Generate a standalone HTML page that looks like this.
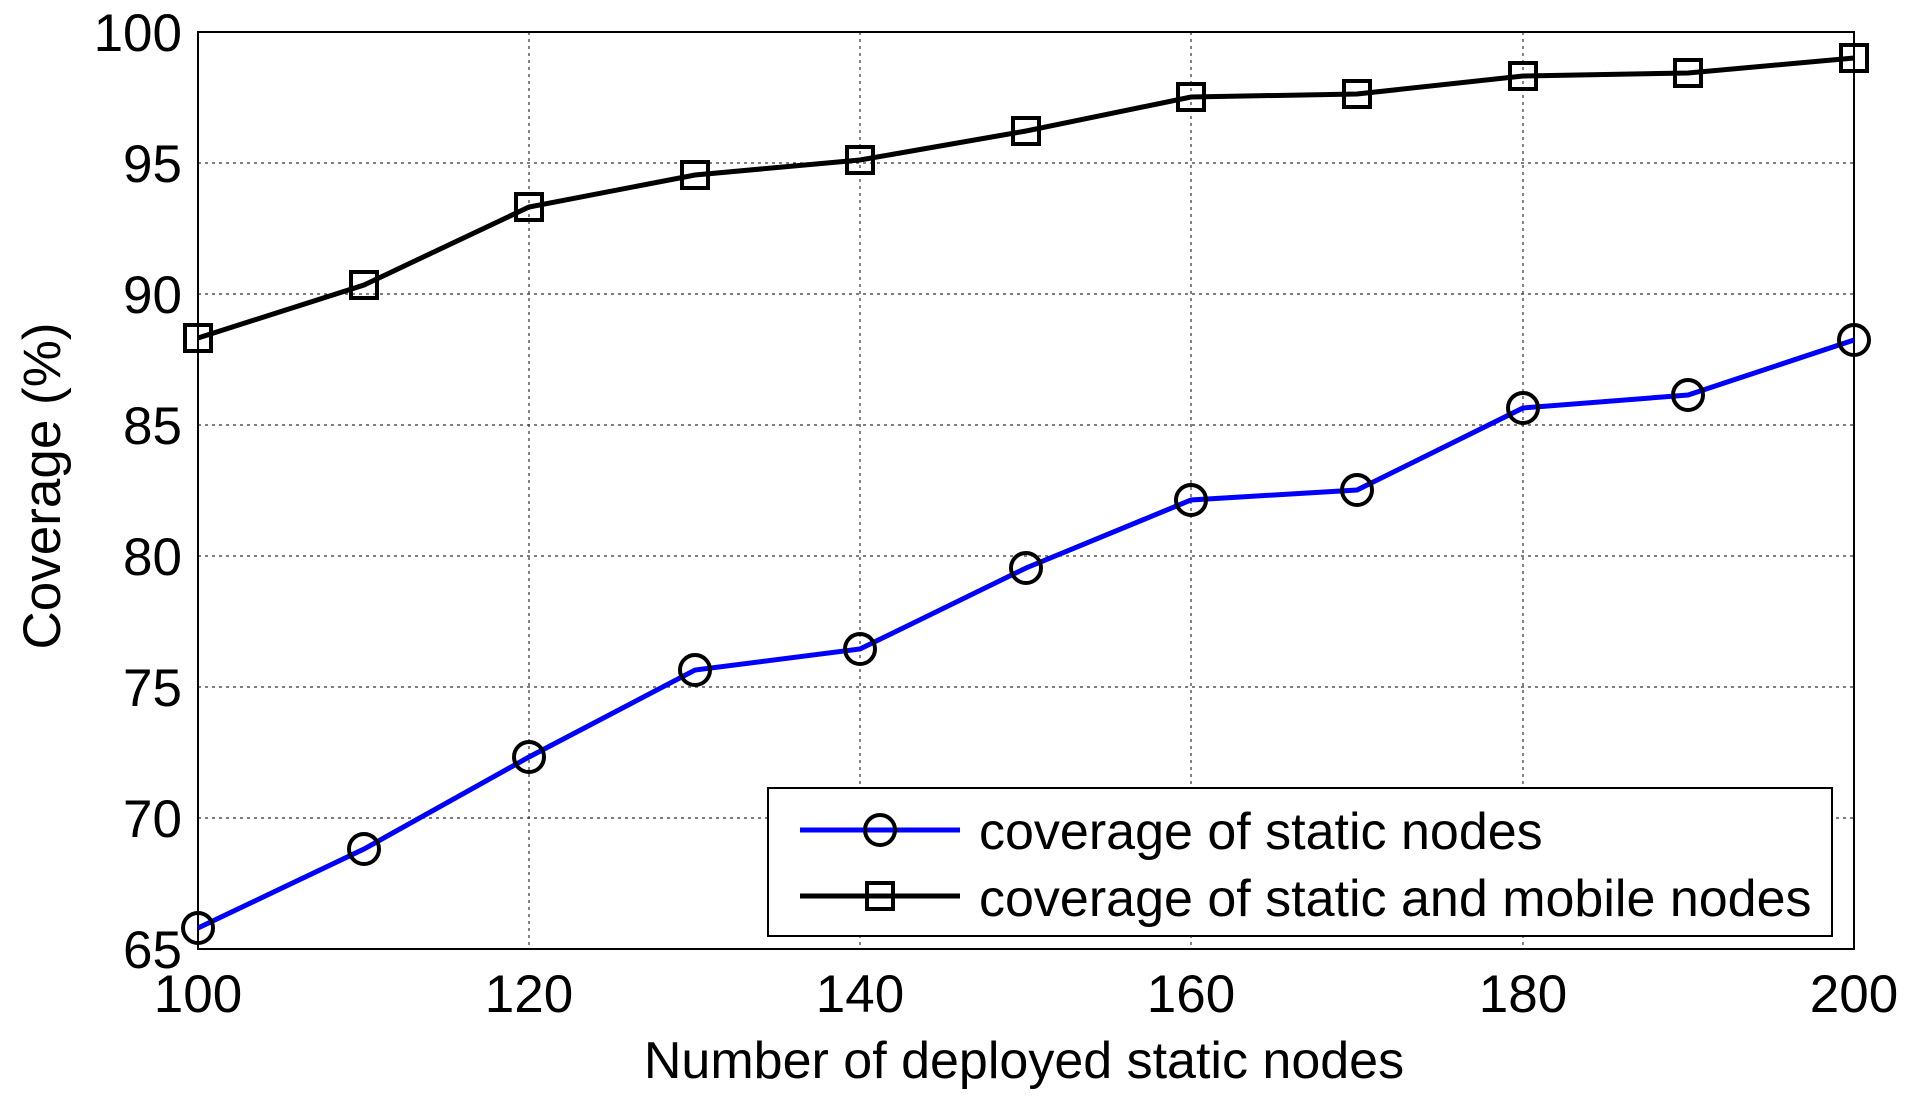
<!DOCTYPE html>
<html><head><meta charset="utf-8"><style>body{margin:0;background:#fff}svg{display:block}</style></head><body>
<svg width="1906" height="1113" xmlns="http://www.w3.org/2000/svg" font-family="Liberation Sans, Arial, sans-serif">
<rect width="1906" height="1113" fill="#fff"/>
<g stroke="#333" stroke-width="1.2" stroke-dasharray="3,4" fill="none">
<line x1="529" y1="32" x2="529" y2="949"/><line x1="860" y1="32" x2="860" y2="949"/><line x1="1191" y1="32" x2="1191" y2="949"/><line x1="1523" y1="32" x2="1523" y2="949"/>
<line x1="198" y1="163" x2="1854" y2="163"/><line x1="198" y1="294" x2="1854" y2="294"/><line x1="198" y1="425" x2="1854" y2="425"/><line x1="198" y1="556" x2="1854" y2="556"/><line x1="198" y1="687" x2="1854" y2="687"/><line x1="198" y1="818" x2="1854" y2="818"/>
</g>
<rect x="198" y="32" width="1656" height="917" fill="none" stroke="#000" stroke-width="2"/>
<g font-size="53" text-anchor="end" fill="#000">
<text x="182" y="51">100</text><text x="182" y="182">95</text><text x="182" y="313">90</text><text x="182" y="444">85</text><text x="182" y="575">80</text><text x="182" y="706">75</text><text x="182" y="837">70</text><text x="182" y="968">65</text>
</g>
<g font-size="53" text-anchor="middle" fill="#000">
<text x="198" y="1012">100</text><text x="529" y="1012">120</text><text x="860" y="1012">140</text><text x="1191" y="1012">160</text><text x="1523" y="1012">180</text><text x="1854" y="1012">200</text>
<text x="1024" y="1078" font-size="52">Number of deployed static nodes</text>
<text transform="translate(60,486) rotate(-90)">Coverage (%)</text>
</g>
<polyline fill="none" stroke="#000" stroke-width="5" points="198,338 364,285 529,207 695,175 860,160 1026,131 1191,97 1357,94 1523,76 1688,73 1854,58"/>
<g fill="none" stroke="#000" stroke-width="4">
<rect x="185" y="325" width="26" height="26"/><rect x="351" y="272" width="26" height="26"/><rect x="516" y="194" width="26" height="26"/><rect x="682" y="162" width="26" height="26"/><rect x="847" y="147" width="26" height="26"/><rect x="1013" y="118" width="26" height="26"/><rect x="1178" y="84" width="26" height="26"/><rect x="1344" y="81" width="26" height="26"/><rect x="1510" y="63" width="26" height="26"/><rect x="1675" y="60" width="26" height="26"/><rect x="1841" y="45" width="26" height="26"/>
</g>
<polyline fill="none" stroke="#0000ff" stroke-width="5" points="198,928 364,849 529,757 695,670 860,649 1026,568 1191,500 1357,490 1523,408 1688,395 1854,340"/>
<g fill="none" stroke="#000" stroke-width="4">
<circle cx="198" cy="928" r="15"/><circle cx="364" cy="849" r="15"/><circle cx="529" cy="757" r="15"/><circle cx="695" cy="670" r="15"/><circle cx="860" cy="649" r="15"/><circle cx="1026" cy="568" r="15"/><circle cx="1191" cy="500" r="15"/><circle cx="1357" cy="490" r="15"/><circle cx="1523" cy="408" r="15"/><circle cx="1688" cy="395" r="15"/><circle cx="1854" cy="340" r="15"/>
</g>
<rect x="768" y="788" width="1064" height="148" fill="#fff" stroke="#000" stroke-width="2"/>
<line x1="800" y1="830" x2="960" y2="830" stroke="#0000ff" stroke-width="5"/>
<circle cx="880" cy="830" r="15" fill="none" stroke="#000" stroke-width="4"/>
<line x1="800" y1="896" x2="960" y2="896" stroke="#000" stroke-width="5"/>
<rect x="867" y="883" width="26" height="26" fill="none" stroke="#000" stroke-width="4"/>
<g font-size="52" fill="#000">
<text x="979" y="849">coverage of static nodes</text>
<text x="979" y="916">coverage of static and mobile nodes</text>
</g>
</svg>
</body></html>
